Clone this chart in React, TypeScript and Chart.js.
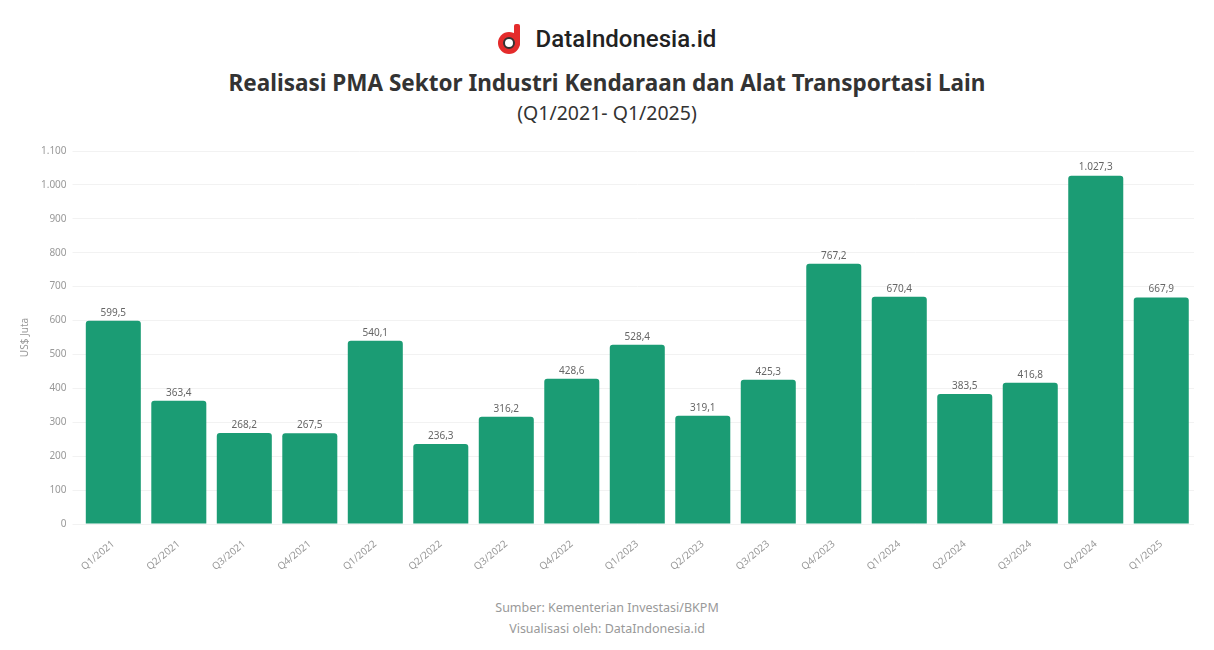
import React, { useEffect, useRef } from "react";
import { Chart, registerables } from "chart.js";

Chart.register(...registerables);

const categories = [
  "Q1/2021", "Q2/2021", "Q3/2021", "Q4/2021",
  "Q1/2022", "Q2/2022", "Q3/2022", "Q4/2022",
  "Q1/2023", "Q2/2023", "Q3/2023", "Q4/2023",
  "Q1/2024", "Q2/2024", "Q3/2024", "Q4/2024",
  "Q1/2025",
];
const values = [
  599.5, 363.4, 268.2, 267.5,
  540.1, 236.3, 316.2, 428.6,
  528.4, 319.1, 425.3, 767.2,
  670.4, 383.5, 416.8, 1027.3,
  667.9,
];
const yTicks = [0, 100, 200, 300, 400, 500, 600, 700, 800, 900, 1000, 1100];

const fmt = (v: number, d = 0) =>
  v.toLocaleString("id-ID", { minimumFractionDigits: d, maximumFractionDigits: d });

const valueLabels = {
  id: "valueLabels",
  afterDatasetsDraw(chart: any) {
    const ctx = chart.ctx;
    const meta = chart.getDatasetMeta(0);
    ctx.save();
    ctx.font = "10px 'Noto Sans'";
    ctx.fillStyle = "#666";
    ctx.textAlign = "center";
    ctx.textBaseline = "bottom";
    meta.data.forEach((bar: any, i: number) => {
      ctx.fillText(fmt(values[i], 1), bar.x, bar.y - 3);
    });
    ctx.restore();
  },
};

export default function App() {
  const ref = useRef<HTMLCanvasElement>(null);
  useEffect(() => {
    if (!ref.current) return;
    const chart = new Chart(ref.current, {
      type: "bar",
      data: {
        labels: categories,
        datasets: [
          {
            data: values,
            backgroundColor: "#1b9c74",
            borderRadius: 3,
            barPercentage: 0.84,
            categoryPercentage: 1,
          },
        ],
      },
      options: {
        animation: false,
        responsive: true,
        maintainAspectRatio: false,
        layout: { padding: { top: 7, right: 10, left: 3 } },
        plugins: {
          legend: { display: false },
          tooltip: { enabled: false },
        },
        scales: {
          x: {
            grid: { display: false },
            border: { display: false },
            ticks: {
              color: "#999",
              font: { size: 10, family: "'Noto Sans'" },
              maxRotation: 40,
              minRotation: 40,
              padding: 6,
            },
          },
          y: {
            min: 0,
            max: 1100,
            afterBuildTicks: (axis: any) => {
              axis.ticks = yTicks.map((v) => ({ value: v }));
            },
            grid: { color: "#f2f2f2" },
            border: { display: false },
            title: {
              display: true,
              text: "US$ Juta",
              color: "#999",
              font: { size: 10, family: "'Noto Sans'" },
            },
            ticks: {
              color: "#999",
              font: { size: 10, family: "'Noto Sans'" },
              callback: (v: any) => fmt(Number(v)),
              padding: 6,
            },
          },
        },
      },
      plugins: [valueLabels],
    });
    return () => chart.destroy();
  }, []);

  return (
    <div style={{ position: "relative", width: 1198, height: 634, fontFamily: "'Noto Sans', sans-serif" }}>
      <div style={{ position: "absolute", top: 16, left: 0, width: "100%", display: "flex", justifyContent: "center", alignItems: "center", gap: 12 }}>
        <div style={{ position: "relative", width: 26, height: 30 }}>
          <div style={{ position: "absolute", left: 0, top: 8, width: 22, height: 22, borderRadius: "50%", background: "#e42b2b" }} />
          <div style={{ position: "absolute", left: 16, top: 0, width: 6, height: 22, background: "#e42b2b", borderRadius: 2 }} />
          <div style={{ position: "absolute", left: 5, top: 13, width: 12, height: 12, borderRadius: "50%", background: "#fff", border: "2px solid #333", boxSizing: "border-box" }} />
        </div>
        <span style={{ fontFamily: "Roboto, sans-serif", fontSize: 24, fontWeight: 500, color: "#222" }}>DataIndonesia.id</span>
      </div>
      <div style={{ position: "absolute", top: 59, left: 0, width: "100%", textAlign: "center", fontSize: 22.5, fontWeight: 700, color: "#333" }}>
        Realisasi PMA Sektor Industri Kendaraan dan Alat Transportasi Lain
      </div>
      <div style={{ position: "absolute", top: 91, left: 0, width: "100%", textAlign: "center", fontSize: 19.5, color: "#333" }}>
        (Q1/2021- Q1/2025)
      </div>
      <div style={{ position: "absolute", top: 131, left: 4, width: 1192, height: 440 }}>
        <canvas ref={ref} />
      </div>
      <div style={{ position: "absolute", top: 589, left: 0, width: "100%", textAlign: "center", fontSize: 12.5, color: "#999", lineHeight: "21px" }}>
        <div>Sumber: Kementerian Investasi/BKPM</div>
        <div>Visualisasi oleh: DataIndonesia.id</div>
      </div>
    </div>
  );
}
